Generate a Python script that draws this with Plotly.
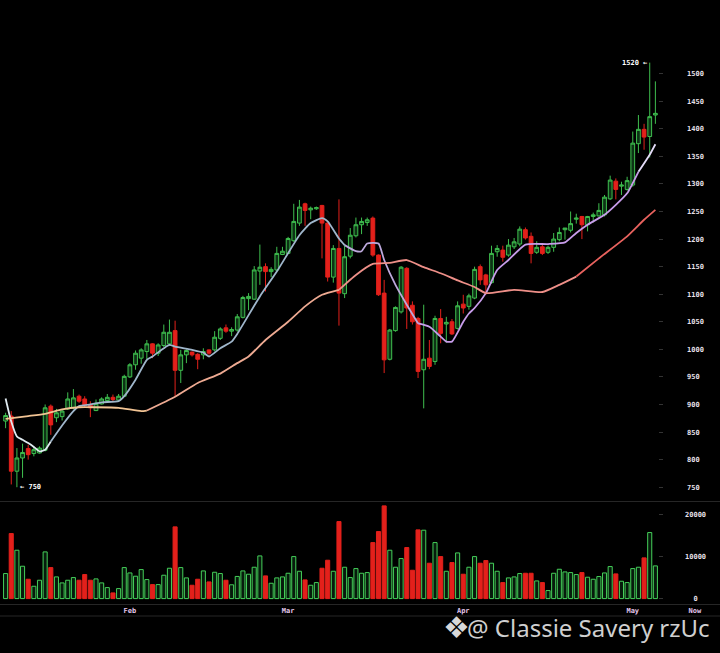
import pandas as pd
import plotly.graph_objects as go

# Candles (one per day)
dates = pd.date_range("2023-01-10", periods=116)

open_ = [870, 879, 779, 803, 820, 811, 812, 817, 897, 876, 878, 892, 894, 915, 910, 900, 889, 901, 907, 913,
         908, 915, 950, 972, 984, 996, 1010, 993, 1007, 1010, 1034, 962, 990, 995, 991, 990, 999, 999, 1020, 1039,
         1033, 1035, 1058, 1092, 1091, 1142, 1150, 1141, 1144, 1172, 1174, 1197, 1229, 1264, 1253, 1255, 1261, 1229, 1131, 1183,
         1101, 1169, 1206, 1226, 1230, 1238, 1171, 1102, 982, 1034, 1068, 1147, 1080, 1056, 963, 984, 978, 1056, 1046, 1050,
         1038, 1082, 1078, 1093, 1150, 1135, 1121, 1177, 1180, 1171, 1186, 1191, 1217, 1205, 1176, 1186, 1176, 1185, 1199, 1217,
         1216, 1236, 1241, 1226, 1241, 1242, 1244, 1273, 1305, 1296, 1290, 1298, 1373, 1399, 1386, 1425]
high = [885, 888, 821, 829, 827, 824, 824, 900, 900, 892, 891, 922, 928, 918, 915, 906, 909, 913, 919, 918,
        919, 954, 975, 998, 1002, 1017, 1011, 1011, 1045, 1054, 1052, 999, 1000, 996, 993, 1002, 1000, 1033, 1040, 1045,
        1040, 1064, 1097, 1102, 1151, 1190, 1156, 1149, 1186, 1186, 1204, 1264, 1271, 1266, 1259, 1259, 1262, 1230, 1189, 1272,
        1189, 1220, 1239, 1239, 1239, 1241, 1172, 1126, 1037, 1078, 1151, 1149, 1087, 1059, 1081, 1017, 1061, 1073, 1059, 1055,
        1087, 1099, 1101, 1150, 1154, 1137, 1188, 1189, 1188, 1200, 1202, 1223, 1221, 1212, 1196, 1191, 1188, 1211, 1221, 1220,
        1250, 1246, 1242, 1242, 1248, 1265, 1280, 1315, 1310, 1304, 1313, 1395, 1425, 1409, 1520, 1486]
low = [857, 755, 750, 767, 800, 806, 811, 815, 845, 868, 871, 890, 891, 903, 894, 877, 888, 900, 904, 906,
       906, 914, 948, 963, 974, 982, 984, 988, 1004, 1006, 915, 939, 975, 987, 964, 982, 990, 996, 1017, 1030,
       1024, 1032, 1056, 1071, 1090, 1117, 1105, 1131, 1141, 1171, 1173, 1195, 1224, 1224, 1236, 1253, 1165, 1123, 1121, 1043,
       1093, 1165, 1203, 1209, 1224, 1168, 1097, 957, 980, 1032, 1065, 1037, 1045, 948, 893, 964, 972, 1011, 1012, 1026,
       1036, 1065, 1072, 1091, 1117, 1099, 1119, 1168, 1159, 1168, 1182, 1187, 1199, 1156, 1173, 1171, 1173, 1177, 1196, 1199,
       1212, 1228, 1200, 1214, 1230, 1241, 1241, 1271, 1272, 1280, 1288, 1295, 1356, 1362, 1348, 1409]
close = [880, 779, 803, 813, 809, 818, 821, 894, 863, 885, 888, 910, 912, 906, 898, 894, 902, 910, 913, 909,
         915, 951, 972, 993, 999, 1010, 993, 1008, 1031, 1031, 962, 990, 998, 990, 982, 996, 993, 1022, 1037, 1033,
         1036, 1059, 1094, 1096, 1144, 1149, 1141, 1145, 1174, 1178, 1201, 1232, 1258, 1252, 1256, 1257, 1229, 1131, 1183, 1102,
         1168, 1207, 1226, 1232, 1235, 1171, 1099, 981, 1035, 1076, 1149, 1075, 1050, 960, 982, 969, 1056, 1029, 1049, 1028,
         1079, 1075, 1097, 1145, 1126, 1117, 1174, 1183, 1167, 1189, 1195, 1218, 1202, 1174, 1185, 1174, 1185, 1200, 1212, 1220,
         1228, 1238, 1226, 1241, 1244, 1252, 1276, 1307, 1290, 1298, 1306, 1374, 1399, 1385, 1422, 1428]
volume = [5990, 15560, 11570, 7740, 4630, 2950, 4390, 11170, 7420, 5190, 3750, 4390, 5030, 4390, 5750, 4390, 4710, 3750, 2630, 1360,
          2390, 7420, 6140, 5350, 6940, 4550, 3350, 3350, 5590, 7260, 17160, 7420, 4950, 3190, 4630, 6620, 3990, 6300, 5990, 4390,
          3300, 5300, 6620, 5830, 7500, 10210, 5430, 3670, 4950, 5190, 6060, 10050, 6540, 4470, 3190, 3830, 7260, 9180, 6540, 18430,
          7500, 5030, 7180, 6060, 6220, 13400, 16040, 22180, 11570, 7500, 9580, 12210, 6780, 16440, 16360, 8460, 13400, 10050, 6540, 8620,
          10930, 5830, 7500, 10050, 8460, 9100, 8460, 6540, 3830, 4950, 5190, 5990, 6060, 6060, 4230, 3830, 1920, 6060, 7020, 6380,
          6220, 5750, 6220, 5110, 4630, 5270, 6140, 7660, 5910, 4150, 3830, 7180, 7500, 9740, 15800, 7820]

# Moving averages, read at the days where the line bends
fast_idx = [0, 1, 2, 3, 4, 5, 6, 7, 8, 10, 12, 13, 15, 17, 20, 21, 23, 25, 26, 28, 29, 30, 33, 35, 36, 38, 40, 41, 45, 48,
            52, 54, 56, 57, 59, 60, 62, 63, 64, 66, 67, 69, 71, 73, 75, 77, 78, 79, 81, 82, 83, 85, 87, 89, 92, 96, 99,
            101, 103, 106, 108, 110, 112, 114, 115]
fast_val = [911, 869, 842, 836, 830, 823, 815, 818, 833, 862, 888, 897, 900, 904, 906, 915, 945, 981, 987, 1002, 1008, 1005,
            999, 994, 987, 1002, 1014, 1028, 1096, 1141, 1207, 1229, 1238, 1232, 1201, 1189, 1178, 1178, 1192, 1192, 1162,
            1117, 1081, 1047, 1041, 1023, 1014, 1014, 1050, 1065, 1075, 1102, 1144, 1162, 1190, 1191, 1194, 1211, 1226,
            1244, 1262, 1283, 1322, 1353, 1372]
slow_idx = [0, 4, 7, 10, 13, 16, 20, 24, 25, 30, 34, 38, 41, 43, 46, 50, 53, 56, 59, 62, 65, 68, 71, 74, 77, 80, 83, 85,
            90, 95, 98, 101, 105, 110, 113, 115]
slow_val = [874, 879, 883, 891, 895, 895, 894, 888, 889, 914, 939, 956, 975, 987, 1017, 1050, 1078, 1099, 1108, 1135, 1155,
            1157, 1162, 1149, 1138, 1125, 1113, 1102, 1108, 1104, 1117, 1132, 1165, 1205, 1235, 1253]

price_ticks = list(range(750, 1501, 50))
volume_ticks = [0, 10000, 20000]
volume_labels = ["\u00a0\u00a00", "10000", "20000"]
month_ticks = ["2023-02-01", "2023-03-01", "2023-04-01", "2023-05-01", "2023-05-12"]
month_labels = ["Feb", "Mar", "Apr", "May", "Now"]

GREEN = "#3fbf4f"
RED = "#e3201b"
TICK_FONT = dict(family="DejaVu Sans Mono", size=7, color="#e8e0ea", weight=700)
MONTH_FONT = dict(family="DejaVu Sans Mono", size=7, color="#e6c8ee", weight=700)


def add_line(fig, idx, val, pieces):
    """Draw one average in a few pieces, its colour drifts along the line."""
    for start, end, color in pieces:
        xs = [dates[i] for i in idx if start <= i <= end]
        ys = [v for i, v in zip(idx, val) if start <= i <= end]
        fig.add_trace(go.Scatter(x=xs, y=ys, mode="lines",
                                 line=dict(color=color, width=1.8, shape="spline", smoothing=0.5),
                                 hoverinfo="skip", showlegend=False), row=1, col=1)


fig = go.Figure()
fig.set_subplots(rows=2, cols=1, shared_xaxes=True, vertical_spacing=0,
                 row_heights=[0.7672, 0.1577])

fig.add_trace(go.Candlestick(
    x=dates, open=open_, high=high, low=low, close=close,
    increasing=dict(line=dict(color=GREEN, width=1), fillcolor="#0d3315"),
    decreasing=dict(line=dict(color=RED, width=1), fillcolor=RED),
    whiskerwidth=0, showlegend=False), row=1, col=1)

add_line(fig, fast_idx, fast_val, [(0, 8, "#dfeaf0"), (8, 60, "#9fb6cb"), (60, 73, "#bda8dc"),
                                   (73, 112, "#c79cea"), (112, 115, "#e4dcf8")])
add_line(fig, slow_idx, slow_val, [(0, 25, "#f2c494"), (25, 59, "#eeaa92"), (59, 101, "#ee8f88"),
                                   (101, 115, "#e8625e")])

bar_fill = ["#071a0c" if c >= o else RED for o, c in zip(open_, close)]
bar_line = ["#45d05a" if c >= o else RED for o, c in zip(open_, close)]
fig.add_trace(go.Bar(x=dates, y=volume, width=0.72 * 86400000,
                     marker=dict(color=bar_fill, line=dict(color=bar_line, width=1)),
                     showlegend=False), row=2, col=1)

fig.update_layout(
    width=720, height=653, margin=dict(l=0, r=0, t=0, b=0),
    paper_bgcolor="#000000", plot_bgcolor="#000000", showlegend=False,
    xaxis_rangeslider_visible=False, boxgap=0.05,
)
x_range = ["2023-01-09 00:14", "2023-05-16 10:30"]
fig.update_xaxes(range=x_range, showgrid=False, zeroline=False)
fig.update_xaxes(showticklabels=False, ticks="", showline=True, linecolor="#262626", linewidth=1, row=1, col=1)
fig.update_xaxes(tickvals=month_ticks, ticktext=month_labels, tickfont=MONTH_FONT, ticks="",
                 showticklabels=True, showline=True, linecolor="#262626", linewidth=1, row=2, col=1)

axis_common = dict(side="right", anchor="free", position=663 / 720, showgrid=False, zeroline=False,
                   ticks="inside", ticklen=4, tickcolor="#333333", tickfont=TICK_FONT, showline=False)
fig.update_layout(
    yaxis=dict(domain=[0.2328, 1], range=[725, 1633.6], tickvals=price_ticks, ticklabelstandoff=23, **axis_common),
    yaxis2=dict(domain=[0.075, 0.2328], range=[-1300, 23353], tickvals=volume_ticks, ticktext=volume_labels,
                ticklabelstandoff=21, **axis_common),
)

# Price markers
marker_font = dict(family="DejaVu Sans Mono", size=7, color="#ffffff", weight=700)
fig.add_annotation(x=dates[114], y=1520, text="1520 ←", showarrow=False, xanchor="right", font=marker_font, xshift=-1)
fig.add_annotation(x=dates[2], y=750, text="← 750", showarrow=False, xanchor="left", font=marker_font, xshift=1)

# Watermark along the bottom
wm_y = (653 - 627) / 653
fig.add_annotation(x=441 / 720, y=wm_y, xref="paper", yref="paper", text="❖", showarrow=False,
                   xanchor="left", yanchor="middle", font=dict(family="DejaVu Sans", size=30, color="#d8d8d8"))
fig.add_annotation(x=712 / 720, y=wm_y, xref="paper", yref="paper", text="@ Classie Savery rzUc",
                   showarrow=False, xanchor="right", yanchor="middle",
                   font=dict(family="Noto Sans", size=24, color="#cfcfcf"))
fig.add_shape(type="line", xref="paper", yref="paper", x0=0, x1=1, y0=(653 - 616) / 653, y1=(653 - 616) / 653,
              line=dict(color="#262626", width=1))

fig.write_html("out.html", config={"displayModeBar": False},
               post_script="document.body.style.margin='0';document.body.style.background='#000';")
